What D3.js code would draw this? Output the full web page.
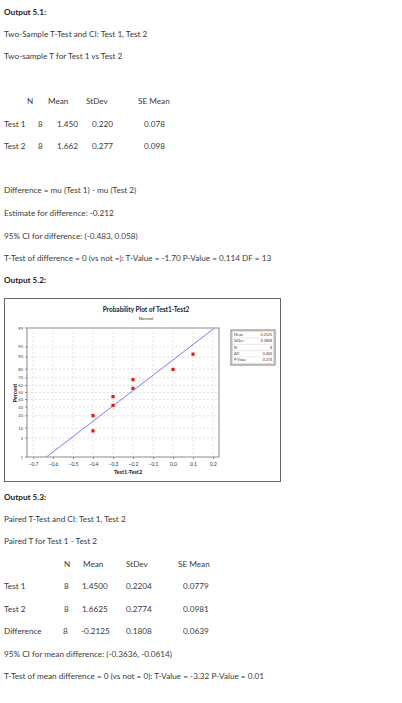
<!DOCTYPE html>
<html><head><meta charset="utf-8">
<script src="https://cdn.jsdelivr.net/npm/d3@7"></script>
<style>
body{margin:0;background:#fff}
text{font-family:Lato,sans-serif}
</style></head>
<body>
<svg id="page" width="402" height="703"></svg>
<script>
// differences Test1 - Test2, sorted
var diffs = [-0.4, -0.4, -0.3, -0.3, -0.2, -0.2, 0.0, 0.1];
var diffMean = -0.2125, diffSd = 0.1808;
var xTicks = [-0.7, -0.6, -0.5, -0.4, -0.3, -0.2, -0.1, 0.0, 0.1, 0.2];
var yTicks = [1, 5, 10, 20, 30, 40, 50, 60, 70, 80, 90, 95, 99];
var legendRows = [["Mean", "-0.2125"], ["StDev", "0.1808"], ["N", "8"], ["AD", "0.400"], ["P-Value", "0.274"]];

var topLines = [
  [12, "Output 5.1:", true], [34, "Two-Sample T-Test and CI: Test 1, Test 2"], [56, "Two-sample T for Test 1 vs Test 2"],
  [190, "Difference = mu (Test 1) - mu (Test 2)"], [213, "Estimate for difference: -0.212"],
  [236, "95% CI for difference: (-0.483, 0.058)"],
  [258, "T-Test of difference = 0 (vs not =): T-Value = -1.70 P-Value = 0.114 DF = 13"],
  [280, "Output 5.2:", true], [497, "Output 5.3:", true],
  [519, "Paired T-Test and CI: Test 1, Test 2"], [541, "Paired T for Test 1 - Test 2"],
  [654, "95% CI for mean difference: (-0.3636, -0.0614)"],
  [676, "T-Test of mean difference = 0 (vs not = 0): T-Value = -3.32 P-Value = 0.01"]
];
var table1 = [
  [101, [[27, "N"], [48, "Mean"], [86, "StDev"], [138, "SE Mean"]]],
  [124, [[4, "Test 1"], [38, "8"], [57, "1.450"], [92, "0.220"], [144, "0.078"]]],
  [146, [[4, "Test 2"], [38, "8"], [57, "1.662"], [92, "0.277"], [144, "0.098"]]]
];
var table2 = [
  [564, [[64, "N"], [83, "Mean"], [126, "StDev"], [178, "SE Mean"]]],
  [586, [[4, "Test 1"], [64, "8"], [82, "1.4500"], [126, "0.2204"], [183, "0.0779"]]],
  [609, [[4, "Test 2"], [64, "8"], [82, "1.6625"], [126, "0.2774"], [183, "0.0981"]]],
  [631, [[4, "Difference"], [63, "8"], [81, "-0.2125"], [126, "0.1808"], [183, "0.0639"]]]
];

var svg = d3.select("#page");
var txt = "#3a3a3a";

topLines.forEach(function(l) {
  svg.append("text").attr("x", 4).attr("y", l[0] + 3).attr("font-size", 8.2)
    .attr("fill", l[2] ? "#222" : txt).attr("font-weight", l[2] ? "bold" : null).text(l[1]);
});
table1.concat(table2).forEach(function(r) {
  r[1].forEach(function(c) {
    svg.append("text").attr("x", c[0]).attr("y", r[0] + 3).attr("font-size", 8.2).attr("fill", txt).text(c[1]);
  });
});

// probability plot
svg.append("rect").attr("x", 4.5).attr("y", 298.5).attr("width", 276).attr("height", 183)
  .attr("fill", "#fff").attr("stroke", "#666");

var pLeft = 33, pRight = 213, pTop = 328, pBottom = 457;
var x = d3.scaleLinear().domain([-0.7, 0.2]).range([pLeft, pRight]);
function invNorm(p) {
  // Acklam approximation
  var a = [-39.6968302866538, 220.946098424521, -275.928510446969, 138.357751867269, -30.6647980661472, 2.50662827745924];
  var b = [-54.4760987982241, 161.585836858041, -155.698979859887, 66.8013118877197, -13.2806815528857];
  var c = [-0.00778489400243029, -0.322396458041136, -2.40075827716184, -2.54973253934373, 4.37466414146497, 2.93816398269878];
  var d = [0.00778469570904146, 0.32246712907004, 2.445134137143, 3.75440866190742];
  var q, r;
  if (p < 0.02425) { q = Math.sqrt(-2 * Math.log(p));
    return (((((c[0]*q+c[1])*q+c[2])*q+c[3])*q+c[4])*q+c[5]) / ((((d[0]*q+d[1])*q+d[2])*q+d[3])*q+1); }
  if (p > 0.97575) { q = Math.sqrt(-2 * Math.log(1 - p));
    return -(((((c[0]*q+c[1])*q+c[2])*q+c[3])*q+c[4])*q+c[5]) / ((((d[0]*q+d[1])*q+d[2])*q+d[3])*q+1); }
  q = p - 0.5; r = q * q;
  return (((((a[0]*r+a[1])*r+a[2])*r+a[3])*r+a[4])*r+a[5])*q / (((((b[0]*r+b[1])*r+b[2])*r+b[3])*r+b[4])*r+1);
}
var zy = d3.scaleLinear().domain([invNorm(0.01), invNorm(0.99)]).range([pBottom, pTop]);
var y = function(pct) { return zy(invNorm(pct / 100)); };

var plot = svg.append("g");
plot.append("rect").attr("x", pLeft - 6).attr("y", pTop).attr("width", pRight - pLeft + 12).attr("height", pBottom - pTop)
  .attr("fill", "#fff").attr("stroke", "#888");
plot.selectAll(".vg").data(xTicks).enter().append("line")
  .attr("x1", x).attr("x2", x).attr("y1", pTop).attr("y2", pBottom)
  .attr("stroke", "#ccc").attr("stroke-dasharray", "2,2").attr("stroke-width", 0.6);
plot.selectAll(".hg").data(yTicks).enter().append("line")
  .attr("x1", pLeft - 6).attr("x2", pRight + 6).attr("y1", y).attr("y2", y)
  .attr("stroke", "#ccc").attr("stroke-dasharray", "2,2").attr("stroke-width", 0.6);

var xAxis = d3.axisBottom(x).tickValues(xTicks).tickSize(2).tickFormat(d3.format(".1f"));
var gx = svg.append("g").attr("transform", "translate(0," + pBottom + ")").call(xAxis);
gx.select(".domain").remove();
gx.selectAll("text").attr("font-size", 5).attr("fill", "#333").attr("font-family", "DejaVu Sans");
gx.selectAll("line").attr("stroke", "#888");

var gy = svg.append("g").attr("transform", "translate(" + (pLeft - 6) + ",0)");
yTicks.forEach(function(t) {
  gy.append("line").attr("x1", -2).attr("x2", 0).attr("y1", y(t)).attr("y2", y(t)).attr("stroke", "#888");
  gy.append("text").attr("x", -4).attr("y", y(t) + 1.5).attr("text-anchor", "end")
    .attr("font-size", 4).attr("fill", "#333").attr("font-family", "DejaVu Sans").text(t);
});

// fitted line
var lineX = [invNorm(0.01) * diffSd + diffMean, invNorm(0.99) * diffSd + diffMean];
plot.append("line").attr("x1", x(lineX[0])).attr("y1", y(1)).attr("x2", x(lineX[1])).attr("y2", y(99))
  .attr("stroke", "#7b7bf0").attr("stroke-width", 1);

var n = diffs.length;
plot.selectAll(".pt").data(diffs).enter().append("rect")
  .attr("x", function(d) { return x(d) - 1.6; })
  .attr("y", function(d, i) { return y((i + 1 - 0.3) / (n + 0.4) * 100) - 1.6; })
  .attr("width", 3.2).attr("height", 3.2).attr("fill", "#e8131a");

svg.append("text").attr("x", 146).attr("y", 312).attr("text-anchor", "middle").attr("font-size", 6.5)
  .attr("font-weight", "bold").attr("font-family", "DejaVu Sans").attr("fill", "#222").text("Probability Plot of Test1-Test2");
svg.append("text").attr("x", 146).attr("y", 320).attr("text-anchor", "middle").attr("font-size", 4.5)
  .attr("font-family", "DejaVu Sans").attr("fill", "#333").text("Normal");
svg.append("text").attr("x", 128).attr("y", 474).attr("text-anchor", "middle").attr("font-size", 5.5)
  .attr("font-weight", "bold").attr("font-family", "DejaVu Sans").attr("fill", "#222").text("Test1-Test2");
svg.append("text").attr("transform", "translate(17,393) rotate(-90)").attr("text-anchor", "middle").attr("font-size", 5.5)
  .attr("font-weight", "bold").attr("font-family", "DejaVu Sans").attr("fill", "#222").text("Percent");

// legend
var lg = svg.append("g").attr("transform", "translate(231,330)");
lg.append("rect").attr("width", 44).attr("height", 35).attr("fill", "#fff").attr("stroke", "#777").attr("stroke-width", 1);
lg.append("rect").attr("x", 1.5).attr("y", 1.5).attr("width", 41).attr("height", 32).attr("fill", "none").attr("stroke", "#bbb").attr("stroke-width", 0.5);
legendRows.forEach(function(r, i) {
  var yy = 6 + i * 6.3;
  lg.append("text").attr("x", 3).attr("y", yy).attr("font-size", 3.6).attr("font-family", "DejaVu Sans").attr("fill", "#333").text(r[0]);
  lg.append("text").attr("x", 41).attr("y", yy).attr("text-anchor", "end").attr("font-size", 3.6).attr("font-family", "DejaVu Sans").attr("fill", "#333").text(r[1]);
  if (i < 4) lg.append("line").attr("x1", 2).attr("x2", 42).attr("y1", yy + 2).attr("y2", yy + 2).attr("stroke", "#ccc").attr("stroke-width", 0.4);
});
</script>
</body></html>
